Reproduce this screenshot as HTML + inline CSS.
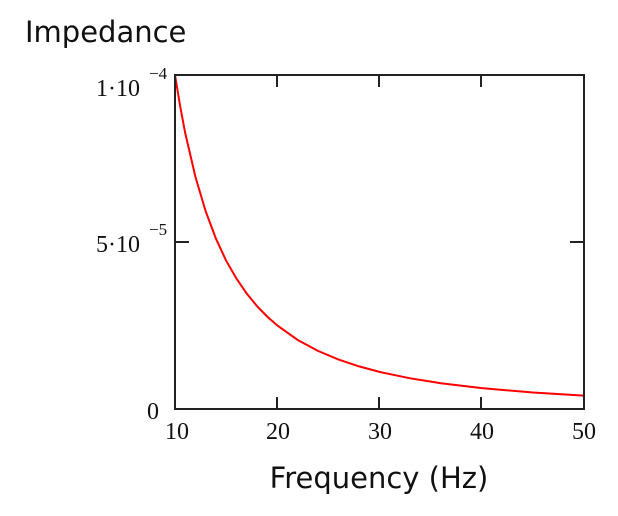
<!DOCTYPE html>
<html><head><meta charset="utf-8"><style>
html,body{margin:0;padding:0;background:#fff;width:618px;height:516px;overflow:hidden}
</style></head><body>
<svg width="618" height="516" xmlns="http://www.w3.org/2000/svg" style="position:absolute;left:0;top:0">
<text x="25" y="42" font-family="DejaVu Sans, Liberation Sans, sans-serif" font-size="29" fill="#111">Impedance</text>
<polyline fill="none" stroke="#ff0000" stroke-width="2" points="175,75 180.1,106 185.2,133 195.5,177.1 205.7,211.4 215.9,238.6 226.1,260.6 236.4,278.5 246.6,293.4 256.8,305.9 267.1,316.5 277.3,325.5 297.7,340 318.2,351 338.6,359.6 359.1,366.4 379.5,371.9 410.2,378.3 440.9,383.2 481.8,388.1 532.9,392.5 584,395.6"/>
<rect x="175" y="75" width="409" height="334" fill="none" stroke="#222" stroke-width="2"/>
<g stroke="#222" stroke-width="2">
<line x1="277" y1="409" x2="277" y2="397"/><line x1="379" y1="409" x2="379" y2="397"/><line x1="481" y1="409" x2="481" y2="397"/>
<line x1="277" y1="75" x2="277" y2="87"/><line x1="379" y1="75" x2="379" y2="87"/><line x1="481" y1="75" x2="481" y2="87"/>
<line x1="175" y1="242" x2="189" y2="242"/><line x1="584" y1="242" x2="570" y2="242"/>
</g>
<g font-family="Liberation Serif, serif" font-size="24" fill="#111">
<text x="96" y="96">1·10</text><text x="149" y="79" font-size="17">−4</text>
<text x="96" y="252">5·10</text><text x="149" y="235" font-size="17">−5</text>
<text x="147" y="419">0</text>
<g text-anchor="middle">
<text x="177" y="439">10</text><text x="278" y="439">20</text><text x="380" y="439">30</text><text x="482" y="439">40</text><text x="584" y="439">50</text>
</g>
</g>
<text x="379" y="488" text-anchor="middle" font-family="DejaVu Sans, Liberation Sans, sans-serif" font-size="29" fill="#111">Frequency (Hz)</text>
</svg>
</body></html>
